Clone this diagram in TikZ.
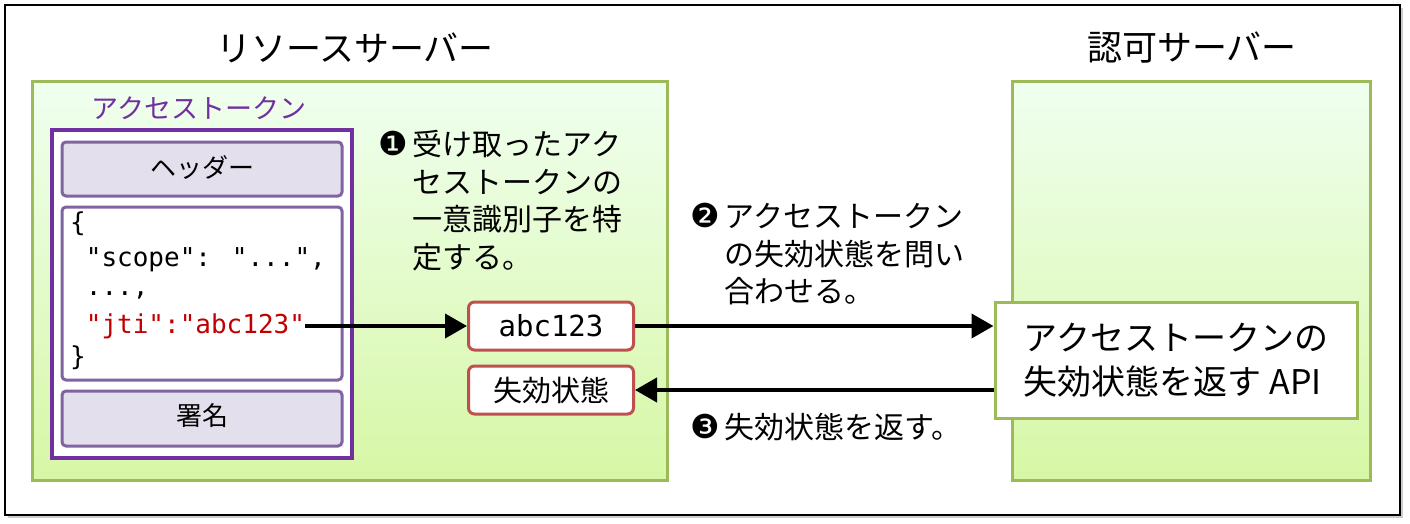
\documentclass[tikz,border=0pt]{standalone}
\usepackage{fontspec}
\setmainfont{Noto Sans CJK JP}
\newfontfamily\jpf{Noto Sans CJK JP}
\newfontfamily\dv{DejaVu Sans}
\newfontfamily\mono{DejaVu Sans Mono}
\usetikzlibrary{arrows.meta,shadows}
\definecolor{grn}{HTML}{9BBB59}
\definecolor{pur}{HTML}{7030A0}
\definecolor{lpur}{HTML}{8064A2}
\definecolor{lfill}{HTML}{E4DFEC}
\definecolor{redb}{HTML}{C0504D}
\definecolor{jred}{HTML}{C00000}
\newcommand\numsym[1]{{\dv\fontsize{33}{33}\selectfont #1}\,}
\tikzset{
 srv/.style={draw=grn,line width=3pt,top color=green!6!white,bottom color={rgb,255:red,215;green,247;blue,165}},
 part/.style={draw=lpur,line width=3pt,rounded corners=4pt,fill=lfill},
 val/.style={draw=redb,line width=3pt,rounded corners=6pt,fill=white,minimum width=165pt,minimum height=48pt,font=\fontsize{29}{30}\selectfont},
 arr/.style={line width=4pt,-{Triangle[length=22pt,width=24pt]}},
 lbl/.style={font=\fontsize{30}{37.5}\selectfont,align=left,anchor=north west,inner sep=0pt},
 code/.style={font=\mono\fontsize{26}{26}\selectfont,anchor=west,inner sep=0pt}
}
\begin{document}
\begin{tikzpicture}[x=1pt,y=-1pt]
\useasboundingbox (0,0) rectangle (1410,524);
\draw[line width=2pt,fill=white,drop shadow={shadow xshift=3pt,shadow yshift=-3pt,opacity=0.4}] (5,5) rectangle (1400,515);
\draw[srv] (32,82) rectangle (667,480);
\draw[srv] (1012,82) rectangle (1370,480);
\node[font=\fontsize{35}{35}\selectfont] (t1) at (355,48) {リソースサーバー};
\node[font=\fontsize{35}{35}\selectfont] (t2) at (1192,48) {認可サーバー};
\node[font=\fontsize{27}{27}\selectfont,text=pur] (tk) at (199,108) {アクセストークン};
\draw[pur,line width=3.5pt,fill=white] (52,130) rectangle (352,458);
\draw[part] (62,142) rectangle (342,196);
\node[font=\fontsize{26}{26}\selectfont] (hd) at (202,167) {ヘッダー};
\draw[part,fill=white] (62,207) rectangle (342,380);
\draw[part] (62,391) rectangle (342,446);
\node[font=\fontsize{26}{26}\selectfont] (sg) at (202,416) {署名};
\node[code] (c1) at (70,224) {\{};
\node[code] (c2) at (70,260) {~"scope": "...",};
\node[code] (c3) at (70,295) {~...,};
\node[code,text=jred] (c4) at (70,326) {~"jti":"abc123"};
\node[code] (c5) at (70,358) {\}};
\node[lbl] (s1) at (378,130) {\numsym{❶}受け取ったアク\\\hphantom{\numsym{❶}}セストークンの\\\hphantom{\numsym{❶}}一意識別子を特\\\hphantom{\numsym{❶}}定する。};
\node[val,font=\mono\fontsize{29}{29}\selectfont] (abc) at (551,326) {abc123};
\node[val] (st) at (551,390) {失効状態};
\node[draw=grn,line width=3pt,fill=white,minimum width=362pt,minimum height=116pt,align=left,font=\fontsize{34}{44}\selectfont] (api) at (1176,360) {アクセストークンの\\失効状態を返す API};
\node[lbl] (s2) at (690,203) {\numsym{❷}アクセストークン\\\hphantom{\numsym{❷}}の失効状態を問い\\\hphantom{\numsym{❷}}合わせる。};
\node[lbl] (s3) at (690,413) {\numsym{❸}失効状態を返す。};
\draw[arr] (c4.east) -- (abc.west);
\draw[arr] (abc.east) -- (abc.east -| api.west);
\draw[arr] (api.west |- st.east) -- (st.east);
\end{tikzpicture}
\end{document}
